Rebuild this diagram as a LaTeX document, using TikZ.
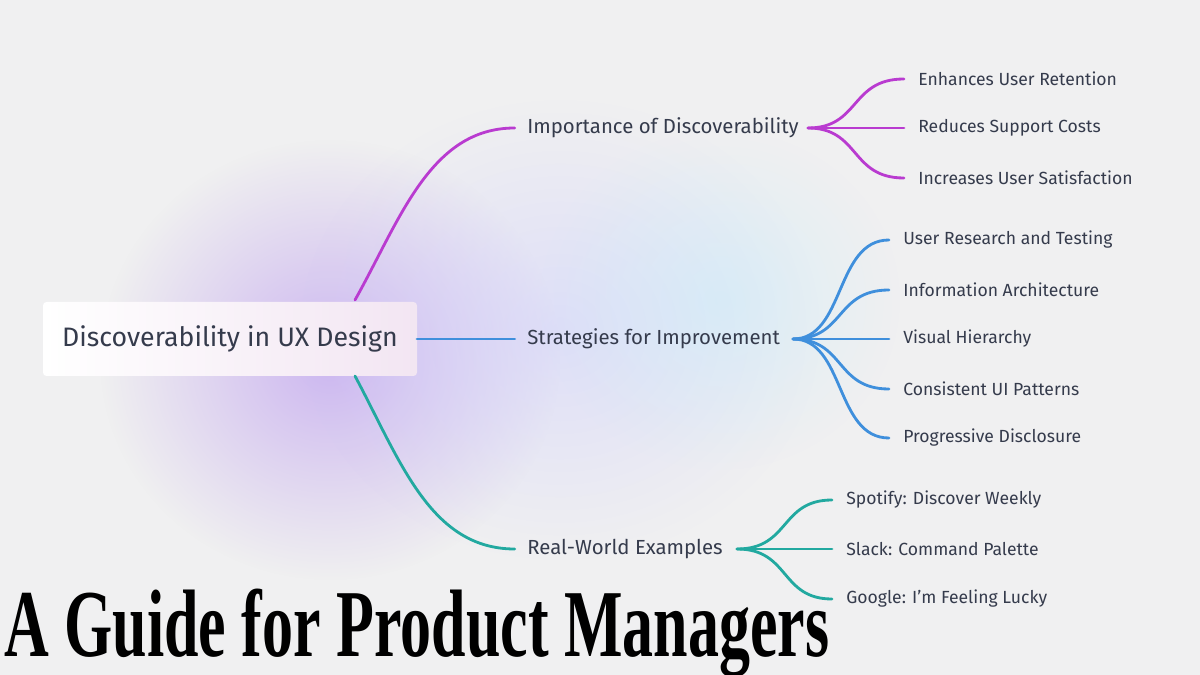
\documentclass[tikz,border=0pt]{standalone}
\usepackage{fontspec}
\setmainfont{Fira Sans}
\newfontfamily\titlefont{Liberation Serif}
\usetikzlibrary{fadings}
\tikzfading[name=glowfade,inner color=transparent!0,outer color=transparent!100]
\definecolor{bgc}{HTML}{F0F0F1}
\definecolor{cpur}{HTML}{B93BD0}
\definecolor{cblu}{HTML}{3F8FDC}
\definecolor{ctea}{HTML}{22A9A0}
\definecolor{txt}{HTML}{353B4C}
\definecolor{glowp}{HTML}{C4A8F0}
\begin{document}
\begin{tikzpicture}[x=0.02cm,y=-0.02cm,
  lab/.style={anchor=west,inner sep=0pt,text=txt,font=\fontsize{11.6}{14}\selectfont},
  sub/.style={anchor=west,inner sep=0pt,text=txt,font=\fontsize{10}{12}\selectfont},
  br/.style={line width=1.6pt,line cap=round}]
\fill[bgc] (0,0) rectangle (1200,675);
\useasboundingbox (0,0) rectangle (1200,675);
\fill[glowp,path fading=glowfade,opacity=0.8] (330,360) ellipse (230 and 220);
\fill[blue!20,path fading=glowfade,opacity=0.5] (560,330) ellipse (260 and 230);
\fill[cyan!22,path fading=glowfade,opacity=0.5] (720,300) ellipse (180 and 170);
% root
\shade[left color=white,right color=violet!10,rounded corners=2pt] (43,302) rectangle (417,376);
\node[inner sep=0pt,text=txt,font=\fontsize{15.2}{18}\selectfont] (root) at (230,339) {Discoverability in UX Design};
\coordinate (rt) at (355,300);
\coordinate (rb) at (355,376);
\coordinate (rr) at (417,339);
% level 1
\node[lab] (imp) at (527,128) {Importance of Discoverability};
\node[lab] (str) at (527,339) {Strategies for Improvement};
\node[lab] (rw) at (527,549) {Real-World Examples};
\draw[br,cpur] (rt) .. controls (400,220) and (430,128) .. ([xshift=-7]imp.west);
\draw[br,cblu] (rr) -- ([xshift=-7]str.west);
\draw[br,ctea] (rb) .. controls (400,460) and (430,549) .. ([xshift=-7]rw.west);
% level 2
\coordinate (pi) at (808,128);
\coordinate (si) at (793,339);
\coordinate (ti) at (737,549);
\foreach \n/\t/\y in {a/Enhances User Retention/79,b/Reduces Support Costs/128,c/Increases User Satisfaction/178}{
  \node[sub] (p\n) at (918,\y) {\t};
  \draw[br,cpur] (pi) .. controls (860,128) and (850,\y) .. ([xshift=-8]p\n.west);}
\foreach \n/\t/\y in {a/User Research and Testing/240,b/Information Architecture/290,c/Visual Hierarchy/339,d/Consistent UI Patterns/389,e/Progressive Disclosure/438}{
  \node[sub] (s\n) at (903,\y) {\t};
  \draw[br,cblu] (si) .. controls (845,339) and (835,\y) .. ([xshift=-8]s\n.west);}
\foreach \n/\t/\y in {a/Spotify: Discover Weekly/500,b/Slack: Command Palette/549,c/Google: I'm Feeling Lucky/599}{
  \node[sub] (t\n) at (846,\y) {\t};
  \draw[br,ctea] (ti) .. controls (790,549) and (780,\y) .. ([xshift=-8]t\n.west);}
\node[anchor=west,inner sep=0pt] (title) at (4,633) {\resizebox{16.5cm}{1.35cm}{\titlefont\bfseries A Guide for Product Managers}};
\end{tikzpicture}
\end{document}
